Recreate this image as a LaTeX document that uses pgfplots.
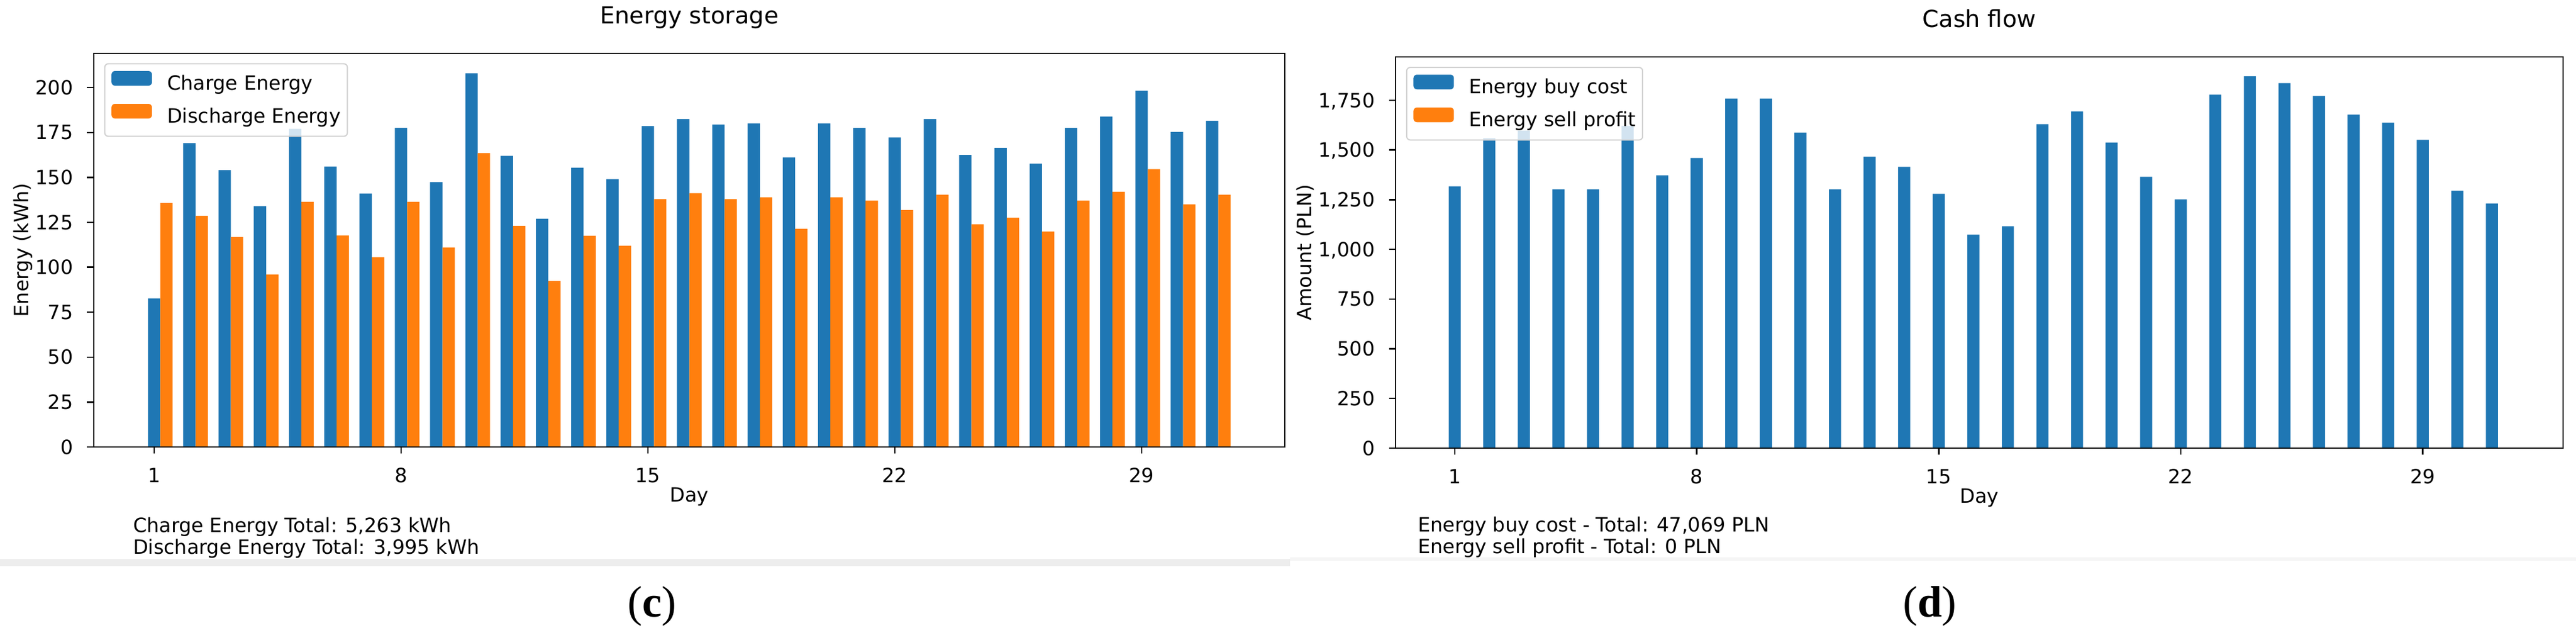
\documentclass[border=0pt]{standalone}
\usepackage{fontspec}
\setmainfont{DejaVu Sans}
\newfontfamily\seriffont{Liberation Serif}
\usepackage{pgfplots}
\usepackage{pgfplotstable}
\pgfplotsset{compat=1.18}

\definecolor{cblue}{HTML}{1F77B4}
\definecolor{corange}{HTML}{FF7F0E}

% daily energy (kWh)
\pgfplotstableread{
day charge discharge
1  82.7  135.7
2  169.0 128.6
3  154.0 116.8
4  134.0 96.0
5  177.0 136.4
6  156.0 117.7
7  141.0 105.6
8  177.6 136.4
9  147.4 111.0
10 207.9 163.5
11 162.0 123.0
12 127.0 92.3
13 155.4 117.5
14 149.0 112.0
15 178.6 137.9
16 182.5 141.2
17 179.4 137.9
18 180.0 138.9
19 161.1 121.4
20 180.0 138.9
21 177.5 137.1
22 172.2 131.8
23 182.5 140.4
24 162.5 123.9
25 166.4 127.6
26 157.7 119.9
27 177.5 137.1
28 183.9 142.0
29 198.2 154.6
30 175.3 135.0
31 181.5 140.4
}\energytable

% daily cash flow (PLN)
\pgfplotstableread{
day buy sell
1  1317 0
2  1559 0
3  1597 0
4  1302 0
5  1302 0
6  1621 0
7  1372 0
8  1459 0
9  1758 0
10 1758 0
11 1587 0
12 1302 0
13 1466 0
14 1415 0
15 1279 0
16 1074 0
17 1116 0
18 1630 0
19 1693 0
20 1537 0
21 1365 0
22 1251 0
23 1778 0
24 1871 0
25 1836 0
26 1771 0
27 1678 0
28 1637 0
29 1551 0
30 1295 0
31 1231 0
}\cashtable

\newcommand{\mplfont}{\fontsize{6.7}{8}\selectfont}

\pgfplotsset{
  mpl/.style={
    scale only axis,
    anchor=south west,
    axis on top,
    xmin=-0.71, xmax=33.06,
    ymin=0,
    xtick={1,8,15,22,29},
    scaled y ticks=false,
    axis line style={line width=0.5pt},
    tick align=outside,
    tick pos=left,
    major tick length=2.3pt,
    every tick/.style={black, line width=0.5pt},
    /pgf/number format/assume math mode=true,
    /pgf/number format/1000 sep={,},
    ticklabel style={font=\mplfont},
    xticklabel style={anchor=base, inner sep=0pt, yshift=-9.8pt},
    yticklabel style={anchor=base east, inner sep=0pt, xshift=-4.6pt, yshift=-2.44pt},
    label style={font=\mplfont},
    title style={font=\fontsize{8}{9.6}\selectfont, at={(axis description cs:0.5,1)}, anchor=base, yshift=4.1pt},
    xlabel style={at={(axis description cs:0.5,0)}, anchor=base, yshift=-18.8pt},
    legend cell align=left,
    legend style={anchor=north west, draw=black!18, line width=0.4pt,
      rounded corners=1.2pt, fill=white, fill opacity=0.8, text opacity=1,
      draw opacity=1, inner xsep=2.3pt, inner ysep=2.46pt, row sep=2.6pt,
      font=\mplfont,
      nodes={inner sep=0pt, text height=5.4pt, text depth=2.2pt},
      /tikz/every odd column/.append style={column sep=5.2pt}},
  },
  mplbar/.style={ybar, bar width=0.35, draw=none,
    legend image code/.code={\fill[##1, fill opacity=1] (0pt,-0.2pt) rectangle (13.8pt,4.8pt);}},
}

\begin{document}
\begin{tikzpicture}
\useasboundingbox (0,0) rectangle (878.6pt,218.2pt);

% faint strips under each panel
\fill[black!7] (0pt,25.2pt) rectangle (440pt,27.6pt);
\fill[black!4] (440pt,27pt) rectangle (878.6pt,28.2pt);

\begin{axis}[mpl,
  at={(32pt,65.8pt)}, width=406.2pt, height=134.2pt,
  ymax=219, ytick={0,25,...,200},
  title={Energy storage}, xlabel={Day}, ylabel={Energy (kWh)},
  ylabel style={at={(axis description cs:-0.0596,0.5)}, anchor=center},
  legend style={at={(axis description cs:0.0087,0.975)}},
]
\addplot[mplbar, bar shift=0, fill=cblue] table[x=day, y=charge] {\energytable};
\addlegendentry{Charge Energy}
\addplot[mplbar, bar shift=0.35, fill=corange] table[x=day, y=discharge] {\energytable};
\addlegendentry{Discharge Energy}
\end{axis}

\begin{axis}[mpl,
  at={(476pt,65.4pt)}, width=398.2pt, height=133.4pt,
  ymax=1968, ytick={0,250,...,1750},
  title={Cash flow}, xlabel={Day}, ylabel={Amount (PLN)},
  ylabel style={at={(axis description cs:-0.0773,0.5)}, anchor=center},
  legend style={at={(axis description cs:0.009,0.9745)}},
]
\addplot[mplbar, bar shift=0, fill=cblue] table[x=day, y=buy] {\cashtable};
\addlegendentry{Energy buy cost}
\addplot[mplbar, bar shift=0.35, fill=corange] table[x=day, y=sell] {\cashtable};
\addlegendentry{Energy sell profit}
\end{axis}

\node[anchor=base west, inner sep=0pt, font=\mplfont] at (45.2pt,36.66pt) {Charge Energy Total: 5,263 kWh};
\node[anchor=base west, inner sep=0pt, font=\mplfont] at (45.2pt,29.2pt) {Discharge Energy Total: 3,995 kWh};
\node[anchor=base west, inner sep=0pt, font=\mplfont] at (483.4pt,36.86pt) {Energy buy cost - Total: 47,069 PLN};
\node[anchor=base west, inner sep=0pt, font=\mplfont] at (483.4pt,29.4pt) {Energy sell profit - Total: 0 PLN};

\node[anchor=base, inner sep=0pt, font=\seriffont\fontsize{15}{18}\selectfont] at (222.4pt,7.8pt) {(\textbf{c})};
\node[anchor=base, inner sep=0pt, font=\seriffont\fontsize{15}{18}\selectfont] at (658.2pt,7.8pt) {(\textbf{d})};
\end{tikzpicture}
\end{document}
